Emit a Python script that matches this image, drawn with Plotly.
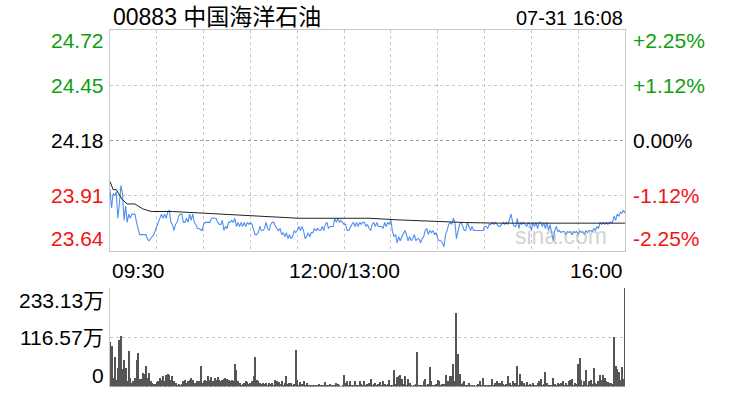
import plotly.graph_objects as go

# ---------------- data ----------------
title_text = "00883 中国海洋石油"
stamp_text = "07-31 16:08"
prev_close = 24.18
price_ticks = [24.72, 24.45, 24.18, 23.91, 23.64]
pct_ticks = ["+2.25%", "+1.12%", "0.00%", "-1.12%", "-2.25%"]
vol_ticks = [233.13, 116.57, 0]
vol_tick_labels = ["233.13万", "116.57万", "0"]
time_labels = ["09:30", "12:00/13:00", "16:00"]
time_label_minutes = [0, 150, 330]

# minute-by-minute last price (0 = 09:30 ... 330 = 16:00, lunch removed)
price = [
    23.94, 23.85, 23.92, 23.91, 23.93, 23.80, 23.87, 23.96, 23.92, 23.79,
    23.86, 23.78, 23.82, 23.80, 23.82, 23.82, 23.82, 23.78, 23.75, 23.72,
    23.72, 23.72, 23.72, 23.72, 23.70, 23.69, 23.70, 23.71, 23.72, 23.74,
    23.76, 23.78, 23.81, 23.82, 23.80, 23.82, 23.80, 23.83, 23.84, 23.78,
    23.77, 23.74, 23.77, 23.78, 23.81, 23.82, 23.82, 23.78, 23.78, 23.80,
    23.78, 23.82, 23.79, 23.82, 23.78, 23.77, 23.75, 23.75, 23.745, 23.74,
    23.77, 23.78, 23.78, 23.78, 23.78, 23.80, 23.80, 23.80, 23.80, 23.78,
    23.77, 23.77, 23.79, 23.74, 23.76, 23.75, 23.78, 23.78, 23.79, 23.78,
    23.80, 23.76, 23.78, 23.76, 23.78, 23.76, 23.78, 23.76, 23.78, 23.77,
    23.78, 23.77, 23.75, 23.72, 23.72, 23.73, 23.76, 23.74, 23.74, 23.75,
    23.78, 23.75, 23.74, 23.77, 23.78, 23.78, 23.76, 23.75, 23.74, 23.75,
    23.72, 23.73, 23.71, 23.73, 23.70, 23.72, 23.70, 23.71, 23.74, 23.73,
    23.74, 23.76, 23.74, 23.76, 23.74, 23.70, 23.71, 23.73, 23.71, 23.73,
    23.73, 23.75, 23.74, 23.75, 23.74, 23.74, 23.76, 23.74, 23.77, 23.78,
    23.75, 23.76, 23.76, 23.76, 23.80, 23.78, 23.80, 23.78, 23.79, 23.78,
    23.77, 23.77, 23.74, 23.74, 23.76, 23.77, 23.78, 23.76, 23.78, 23.76,
    23.78, 23.77, 23.78, 23.78, 23.76, 23.77, 23.75, 23.74, 23.77, 23.78,
    23.76, 23.78, 23.76, 23.76, 23.76, 23.75, 23.78, 23.76, 23.78, 23.77,
    23.79, 23.735, 23.71, 23.72, 23.68, 23.71, 23.69, 23.71, 23.73, 23.74,
    23.72, 23.69, 23.71, 23.69, 23.70, 23.72, 23.69, 23.70, 23.70, 23.68,
    23.70, 23.71, 23.74, 23.75, 23.72, 23.74, 23.73, 23.74, 23.72, 23.73,
    23.70, 23.69, 23.69, 23.68, 23.66, 23.72, 23.74, 23.77, 23.78, 23.77,
    23.80, 23.78, 23.70, 23.73, 23.77, 23.78, 23.76, 23.74, 23.74, 23.78,
    23.76, 23.74, 23.76, 23.74, 23.74, 23.74, 23.74, 23.74, 23.74, 23.74,
    23.76, 23.76, 23.75, 23.77, 23.77, 23.78, 23.77, 23.78, 23.77, 23.76,
    23.76, 23.77, 23.78, 23.77, 23.78, 23.77, 23.79, 23.82, 23.78, 23.76,
    23.76, 23.80, 23.75, 23.78, 23.77, 23.78, 23.77, 23.76, 23.78, 23.77,
    23.74, 23.78, 23.76, 23.78, 23.75, 23.78, 23.78, 23.76, 23.78, 23.75,
    23.78, 23.74, 23.77, 23.73, 23.69, 23.74, 23.76, 23.735, 23.74, 23.73,
    23.735, 23.735, 23.72, 23.735, 23.73, 23.735, 23.72, 23.735, 23.73, 23.735,
    23.72, 23.74, 23.73, 23.735, 23.72, 23.74, 23.73, 23.74, 23.74, 23.735,
    23.75, 23.74, 23.76, 23.75, 23.78, 23.77, 23.78, 23.77, 23.78, 23.77,
    23.78, 23.78, 23.78, 23.81, 23.79, 23.82, 23.81, 23.83, 23.825, 23.84,
    23.825,
]

# average price line (read at knots)
avg_minutes = [0, 2, 4, 6, 8, 11, 16, 18, 21, 25, 27, 40, 61, 82, 91, 102,
               121, 144, 166, 185, 206, 228, 249, 290, 330]
avg_price = [23.98, 23.94, 23.94, 23.915, 23.89, 23.87, 23.87, 23.86, 23.846,
             23.836, 23.833, 23.833, 23.825, 23.817, 23.813, 23.808, 23.80,
             23.80, 23.80, 23.792, 23.784, 23.779, 23.776, 23.776, 23.776]

# minute volume, in 万 shares
volume = [
    105, 95, 20, 71, 16, 44, 111, 120, 41, 63,
    44, 12, 83, 20, 8, 12, 20, 63, 79, 17,
    17, 32, 29, 49, 20, 32, 12, 8, 6, 6,
    10, 12, 20, 16, 24, 12, 28, 30, 28, 16,
    24, 12, 8, 4, 6, 2, 6, 13, 16, 8,
    12, 16, 20, 16, 8, 8, 12, 12, 49, 8,
    12, 16, 12, 24, 16, 22, 12, 21, 16, 22,
    16, 14, 16, 18, 20, 17, 16, 12, 16, 12,
    54, 40, 12, 8, 4, 6, 8, 12, 10, 6,
    8, 12, 24, 70, 16, 12, 8, 6, 8, 6,
    8, 4, 8, 6, 8, 4, 16, 12, 10, 6,
    13, 4, 8, 24, 6, 8, 8, 4, 6, 86,
    16, 4, 10, 6, 12, 4, 8, 3, 2, 4,
    3, 2, 4, 2, 5, 3, 2, 4, 11, 3,
    4, 5, 2, 3, 4, 8, 6, 3, 0.5, 4,
    28, 8, 12, 4, 14, 4, 3, 13, 2, 4,
    13, 5, 4, 12, 3, 6, 8, 18, 4, 6,
    8, 3, 6, 10, 4, 13, 6, 3, 5, 16,
    4, 3, 40, 6, 22, 25, 28, 18, 5, 25,
    4, 18, 8, 3, 0.5, 4, 6, 82, 2, 4,
    3, 12, 18, 4, 6, 46, 12, 4, 4, 6,
    16, 12, 4, 6, 6, 28, 12, 12, 24, 26,
    54, 12, 173, 78, 30, 6, 8, 12, 4, 4,
    8, 2, 2, 2, 0.5, 2, 6, 12, 2, 20,
    2, 2, 3, 2, 4, 18, 4, 8, 13, 8,
    8, 12, 6, 4, 6, 25, 8, 4, 13, 8,
    8, 49, 4, 30, 12, 8, 4, 10, 4, 6,
    4, 8, 2, 2, 8, 12, 17, 4, 6, 35,
    8, 4, 2, 2, 20, 6, 2, 8, 6, 8,
    12, 4, 8, 2, 12, 16, 17, 2, 8, 6,
    54, 68, 16, 2, 12, 40, 2, 12, 16, 6,
    44, 8, 6, 12, 28, 16, 28, 21, 12, 10,
    8, 8, 6, 117, 49, 41, 35, 16, 46, 18,
    233.13,
]
minutes = list(range(len(price)))
vol_minutes = list(range(len(volume)))

# ---------------- styling ----------------
W, H = 736, 402
FONT = "Liberation Sans, Arial, Helvetica, sans-serif"
CJK = "Liberation Sans, Noto Sans CJK SC, sans-serif"
GREEN = "#0c9f0c"
RED = "#f01414"
BLUE = "#4f8ff2"
GRID = "#c8c8c8"

def px_x(x):
    return x / W

def px_y(y):
    return 1 - y / H

fig = go.Figure()
fig.add_trace(go.Scatter(x=minutes, y=price, mode="lines",
                         line=dict(color=BLUE, width=1.1),
                         xaxis="x", yaxis="y", hoverinfo="skip"))
fig.add_trace(go.Scatter(x=avg_minutes, y=avg_price, mode="lines",
                         line=dict(color="#222222", width=1),
                         xaxis="x", yaxis="y", hoverinfo="skip"))
fig.add_trace(go.Bar(x=vol_minutes, y=volume, width=0.65,
                     marker=dict(color="#555555", line=dict(width=0)),
                     xaxis="x2", yaxis="y2", hoverinfo="skip"))

xdom = [px_x(110), px_x(625)]
fig.update_layout(
    width=W, height=H, margin=dict(l=0, r=0, t=0, b=0),
    paper_bgcolor="white", plot_bgcolor="white", showlegend=False,
    bargap=0,
    xaxis=dict(domain=xdom, range=[0, 330], tick0=0, dtick=30,
               showgrid=True, gridcolor=GRID, griddash="dot", gridwidth=1,
               showticklabels=False, ticks="", zeroline=False,
               showline=True, linecolor="#c8c8c8", linewidth=1, mirror=True),
    yaxis=dict(domain=[px_y(251), px_y(30)], range=[23.64, 24.72],
               tickvals=[24.45, 24.18, 23.91], showgrid=True, gridcolor=GRID,
               griddash="dot", gridwidth=1, showticklabels=False, ticks="",
               zeroline=False, showline=True, linecolor="#c8c8c8",
               linewidth=1, mirror=True),
    xaxis2=dict(domain=xdom, range=[0, 330], anchor="y2",
                showgrid=False, showticklabels=False, ticks="",
                zeroline=False, showline=False),
    yaxis2=dict(domain=[px_y(386.5), px_y(288)], range=[0, 233.13],
                anchor="x2", tickvals=[116.57, 233.13], showgrid=True,
                gridcolor=GRID, griddash="dot", gridwidth=1,
                showticklabels=False, ticks="", zeroline=False,
                showline=True, linecolor="#c8c8c8", linewidth=1),
)

# center (prev close) line a bit darker
fig.add_shape(type="line", xref="x", yref="y", x0=0, x1=330,
              y0=prev_close, y1=prev_close,
              line=dict(color="#9a9a9a", width=1, dash="dot"))

ann = []
# title and timestamp
ann.append(dict(text=title_text, x=px_x(111), y=px_y(17), xref="paper",
                yref="paper", xanchor="left", yanchor="middle",
                showarrow=False, font=dict(family=CJK, size=23, color="#000")))
ann.append(dict(text=stamp_text, x=px_x(625), y=px_y(18), xref="paper",
                yref="paper", xanchor="right", yanchor="middle",
                showarrow=False, font=dict(family=FONT, size=20, color="#000")))

# price and percent labels
shifts = [-10, 0, 0, 0, 13]
for i, (p, pct) in enumerate(zip(price_ticks, pct_ticks)):
    col = GREEN if p > prev_close else (RED if p < prev_close else "#000")
    ann.append(dict(text=f"{p:.2f}", x=px_x(106), y=p, xref="paper",
                    yref="y", xanchor="right", yanchor="middle",
                    yshift=shifts[i], showarrow=False,
                    font=dict(family=FONT, size=21, color=col)))
    ann.append(dict(text=pct, x=px_x(631), y=p, xref="paper", yref="y",
                    xanchor="left", yanchor="middle", yshift=shifts[i],
                    showarrow=False,
                    font=dict(family=FONT, size=21, color=col)))

# time labels
anchors = ["left", "center", "right"]
for t, m, a in zip(time_labels, time_label_minutes, anchors):
    ann.append(dict(text=t, x=m, y=px_y(270), xref="x", yref="paper",
                    xanchor=a, yanchor="middle", showarrow=False,
                    font=dict(family=FONT, size=21, color="#000")))

# volume labels
vshifts = [-12, 0, 11]
for v, lab, s in zip(vol_ticks, vol_tick_labels, vshifts):
    ann.append(dict(text=lab, x=px_x(106), y=v, xref="paper", yref="y2",
                    xanchor="right", yanchor="middle", yshift=s,
                    showarrow=False,
                    font=dict(family=CJK, size=21, color="#000")))

# watermark
ann.append(dict(text="sina.com", x=px_x(561), y=px_y(236), xref="paper",
                yref="paper", xanchor="center", yanchor="middle",
                showarrow=False,
                font=dict(family=FONT, size=23, color="rgba(165,165,165,0.5)")))

fig.update_layout(annotations=ann)
fig.write_html("out.html")
